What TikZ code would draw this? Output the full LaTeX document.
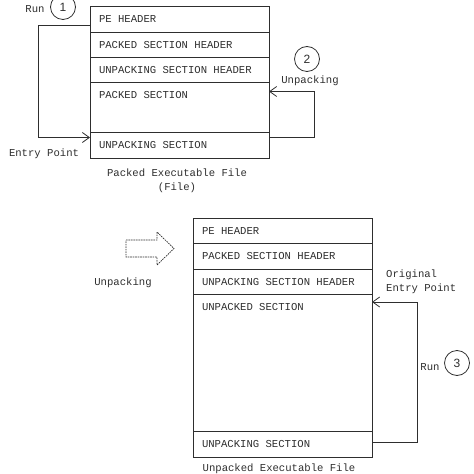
\documentclass[tikz,border=0pt]{standalone}
\usepackage{fontspec}
\setmainfont{Liberation Sans}
\setmonofont{Liberation Mono}
\usepackage{tikz}
\usetikzlibrary{arrows.meta, calc, positioning}
\usepackage{xcolor}
\definecolor{InkGray}{gray}{0.18}
\tikzset{%
  section/.style={%
    rectangle,
    draw=InkGray,
    line width=0.8pt,
    outer sep=0pt,
    inner xsep=9bp,
    inner ysep=0pt,
    minimum width=179bp,
    text width=161bp,
    text height=16.4bp,
    text depth=#1,
    text=InkGray,
    font={\ttfamily\fontsize{10.6bp}{14bp}\selectfont},
    execute at begin node={\spaceskip=0.6em\relax}%
  },
  annotate/.style={%
    text=InkGray,
    inner sep=0pt,
    font={\ttfamily\fontsize{10.6bp}{14bp}\selectfont},
  },
  stepcircle/.style={%
    circle,
    draw=InkGray,
    line width=0.8pt,
    minimum size=25bp,
    inner sep=0pt,
    text=InkGray,
    font={\fontsize{12bp}{14bp}\selectfont}%
  },
  signal/.style={%
    color=InkGray,
    line width=0.8pt,
    line join=miter
  },
  arrow/.style={-{Straight Barb[length=7bp, width=10bp]}}
}
\begin{document}
\begin{tikzpicture}[x=1bp, y=-1bp]
    \useasboundingbox (0,0) rectangle (474,474);

    % packed file
    \node [section=9.6bp, anchor=north west] (PEHeader) at (90,6.5) {PE HEADER};
    \node [section=8.6bp, below=0pt of PEHeader] (PackedHeader) {PACKED SECTION HEADER};
    \node [section=8.6bp, below=0pt of PackedHeader] (UnpackHeader) {UNPACKING SECTION HEADER};
    \node [section=33.6bp, below=0pt of UnpackHeader] (PackedSection) {PACKED SECTION};
    \node [section=9.6bp, below=0pt of PackedSection] (UnpackSection) {UNPACKING SECTION};
    \node [annotate, align=center] (PackedCaption) at (177,180.5)
      {Packed Executable File\\(File)};

    \node [stepcircle] (StepOne) at (63,7) {1};
    \node [annotate] (RunOne) at (35,9) {Run};
    \node [annotate] (EntryPoint) at (44,154) {Entry Point};
    \draw [arrow, signal]
      ($(PEHeader.south west)+(0,-7)$)
      -- ++(-52,0)
      |- ($(UnpackSection.north west)+(0,5)$);

    \node [stepcircle] (StepTwo) at (307,59) {2};
    \node [annotate] (UnpackingTwo) at (310,81) {Unpacking};
    \draw [arrow, signal]
      ($(UnpackSection.north east)+(0,5)$)
      -- ++(45,0)
      |- ($(PackedSection.north east)+(0,9)$);

    % unpacking step
    \draw [InkGray, line width=0.7pt, dash pattern=on 1.6pt off 0.9pt]
      (126,240) -- (157,240) -- (157,232) -- (174,248.5)
      -- (157,265) -- (157,257) -- (126,257) -- cycle;
    \node [annotate] (UnpackingLabel) at (123,283) {Unpacking};

    % unpacked file
    \node [section=8.6bp, anchor=north west] (PEHeaderB) at (193,218) {PE HEADER};
    \node [section=9.6bp, below=0pt of PEHeaderB] (PackedHeaderB) {PACKED SECTION HEADER};
    \node [section=8.6bp, below=0pt of PackedHeaderB] (UnpackHeaderB) {UNPACKING SECTION HEADER};
    \node [section=120.6bp, below=0pt of UnpackHeaderB] (UnpackedSection) {UNPACKED SECTION};
    \node [section=9.6bp, below=0pt of UnpackedSection] (UnpackSectionB) {UNPACKING SECTION};
    \node [annotate] (UnpackedCaption) at (279,469) {Unpacked Executable File};

    \node [annotate, align=left, anchor=west] (OriginalEntry) at (386,281.5)
      {Original\\Entry Point};
    \node [stepcircle] (StepThree) at (457,363) {3};
    \node [annotate] (RunThree) at (430,367) {Run};
    \draw [arrow, signal]
      ($(UnpackSectionB.north east)+(0,11)$)
      -- ++(45,0)
      |- ($(UnpackedSection.north east)+(0,8)$);
\end{tikzpicture}
\end{document}
